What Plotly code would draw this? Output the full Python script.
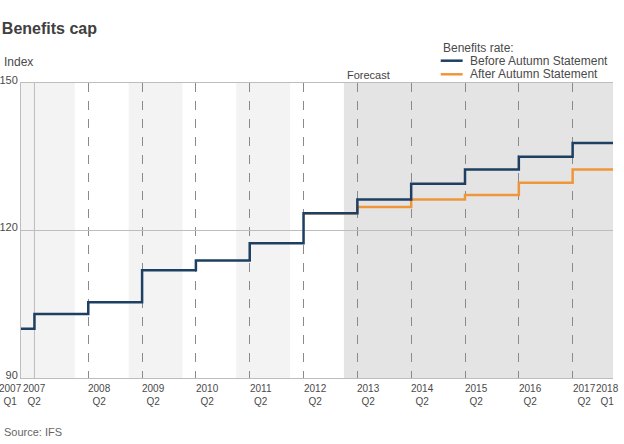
import plotly.graph_objects as go

# ---------------------------------------------------------------------------
# Data (x = quarter index, 0 = 2007 Q1, 44 = 2018 Q1)
# ---------------------------------------------------------------------------

before_q = [0, 1, 5, 9, 13, 17, 21, 25, 29, 33, 37, 41, 44]
before_idx = [100.0, 103.0, 105.4, 111.9, 113.9, 117.4, 123.5,
              126.3, 129.5, 132.4, 135.0, 137.8, 137.8]

after_q = [21, 25, 29, 33, 37, 41, 44]
after_idx = [123.5, 124.8, 126.3, 127.2, 129.7, 132.4, 132.4]

tick_q = [0, 1, 5, 9, 13, 17, 21, 25, 29, 33, 37, 41, 44]
tick_year = ['2007', '2007', '2008', '2009', '2010', '2011', '2012',
             '2013', '2014', '2015', '2016', '2017', '2018']
tick_quarter = ['Q1', 'Q2', 'Q2', 'Q2', 'Q2', 'Q2', 'Q2',
                'Q2', 'Q2', 'Q2', 'Q2', 'Q2', 'Q1']

y_ticks = [90, 120, 150]

# alternating light year bands and the forecast period (quarter index)
light_bands = [(0, 4), (8, 12), (16, 20)]
forecast_start, forecast_end = 24, 44

BLUE = '#1c3f62'
ORANGE = '#f0963a'
TXT = '#4a4a4a'
FONT = 'Liberation Sans, Arial, sans-serif'

fig = go.Figure()

fig.add_trace(go.Scatter(
    x=after_q, y=after_idx, mode='lines', line_shape='hv',
    line=dict(color=ORANGE, width=2.5), showlegend=False,
    name='After Autumn Statement',
))
fig.add_trace(go.Scatter(
    x=before_q, y=before_idx, mode='lines', line_shape='hv',
    line=dict(color=BLUE, width=2.5), showlegend=False,
    name='Before Autumn Statement',
))

# background bands
for x0, x1 in light_bands:
    fig.add_shape(type='rect', xref='x', yref='paper', x0=x0, x1=x1, y0=0, y1=1,
                  fillcolor='#f3f3f3', line_width=0, layer='below')
fig.add_shape(type='rect', xref='x', yref='paper', x0=forecast_start, x1=forecast_end,
              y0=0, y1=1, fillcolor='#e4e4e4', line_width=0, layer='below')

# solid line at 2007 Q2
fig.add_shape(type='line', xref='x', yref='paper', x0=tick_q[1], x1=tick_q[1], y0=0, y1=1,
              line=dict(color='#bdbdbd', width=1), layer='below')

# x tick labels: 2007 Q1 hangs left, 2018 Q1 hangs right, others sit right of tick
anchors = ['right', 'center'] + ['left'] * 10 + ['right']
shifts = [1.5, 0] + [-1] * 10 + [7]
for q, yr, qt, anc, sh in zip(tick_q, tick_year, tick_quarter, anchors, shifts):
    fig.add_annotation(x=q, y=0, xref='x', yref='paper', xanchor=anc, yanchor='top',
                       xshift=sh, yshift=-4, text=f'{yr}<br>{qt}', showarrow=False,
                       align='center', font=dict(family=FONT, size=10, color=TXT),
                       borderpad=0)

# texts
fig.add_annotation(x=forecast_start, y=1, xref='x', yref='paper', xanchor='left',
                   yanchor='bottom', xshift=1, yshift=0, text='Forecast', showarrow=False,
                   font=dict(family=FONT, size=11, color='#444'))
fig.add_annotation(x=-0.032, y=1.0695, xref='paper', yref='paper', xanchor='left',
                   yanchor='middle', text='Index', showarrow=False,
                   font=dict(family=FONT, size=12, color=TXT))
fig.add_annotation(x=-0.032, y=-0.183, xref='paper', yref='paper', xanchor='left',
                   yanchor='middle', text='Source: IFS', showarrow=False,
                   font=dict(family=FONT, size=11, color='#666'))

# legend (manual, to match compact layout)
fig.add_annotation(x=0.709, y=1.1186, xref='paper', yref='paper', xanchor='left',
                   yanchor='middle', text='Benefits rate:', showarrow=False,
                   font=dict(family=FONT, size=12, color=TXT))
for yy, col, lab in [(1.0756, BLUE, 'Before Autumn Statement'),
                     (1.0295, ORANGE, 'After Autumn Statement')]:
    fig.add_shape(type='line', xref='paper', yref='paper', x0=0.709, x1=0.746,
                  y0=yy, y1=yy, line=dict(color=col, width=2.5))
    fig.add_annotation(x=0.755, y=yy, xref='paper', yref='paper', xanchor='left',
                       yanchor='middle', text=lab, showarrow=False,
                       font=dict(family=FONT, size=12, color=TXT))

fig.update_layout(
    width=624, height=444,
    margin=dict(l=21, r=11, t=83, b=66),
    paper_bgcolor='white', plot_bgcolor='white',
    font=dict(family=FONT, size=12, color=TXT),
    title=dict(text='<b>Benefits cap</b>', x=0.003, xanchor='left',
               y=0.935, yanchor='middle', font=dict(size=16, color='#404040')),
    showlegend=False,
    xaxis=dict(range=[0, 44], tickvals=tick_q[2:12], showticklabels=False,
               showgrid=True, gridcolor='#8a8a8a', gridwidth=1, griddash='dash',
               zeroline=False, showline=True, linecolor='#bdbdbd', linewidth=1,
               mirror=True, ticks='', automargin=False),
    yaxis=dict(range=[90, 150], tickvals=y_ticks, showgrid=True, gridcolor='#bdbdbd',
               gridwidth=1, zeroline=False, showline=True, linecolor='#bdbdbd',
               linewidth=1, ticks='', ticklen=0, ticklabelstandoff=0,
               ticklabelshift=-3, tickfont=dict(size=11, color=TXT),
               automargin=False),
)

# page body has a default 8px margin; remove it so the figure sits at 0,0
fig.write_html('out.html', config={'displayModeBar': False},
               post_script="document.body.style.margin='0';")
